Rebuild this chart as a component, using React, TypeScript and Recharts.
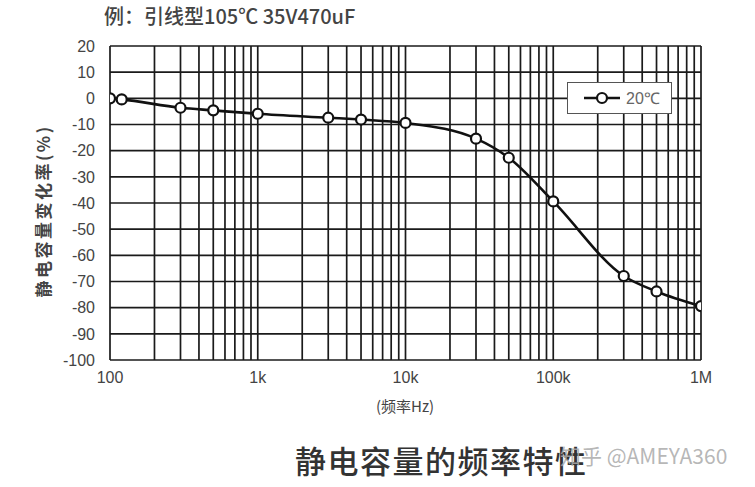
import React from "react";
import {
  LineChart,
  Line,
  XAxis,
  YAxis,
  ReferenceLine,
  Legend,
} from "recharts";

// Frequency (Hz) and capacitance change (%)
const frequencies = [100, 120, 300, 500, 1000, 3000, 5000, 10000, 30000, 50000, 100000, 300000, 500000, 1000000];
const capChange = [0, -0.4, -3.6, -4.6, -5.9, -7.4, -8.1, -9.4, -15.4, -22.7, -39.4, -67.9, -73.8, -79.4];

const seriesName = "20℃";
const xTicks = [100, 1000, 10000, 100000, 1000000];
const xTickLabels = ["100", "1k", "10k", "100k", "1M"];
const yTicks = [-100, -90, -80, -70, -60, -50, -40, -30, -20, -10, 0, 10, 20];
const decades = [100, 1000, 10000, 100000];
const multipliers = [1, 2, 3, 4, 5, 6, 7, 8, 9];

const titleText = "例：引线型105℃ 35V470uF";
const yLabelText = "静电容量变化率(%)";
const xLabelText = "(频率Hz)";
const captionText = "静电容量的频率特性";
const watermarkText = "知乎 @AMEYA360";

const data = frequencies.map((f, i) => ({ f, v: capChange[i] }));
const verticalGrid = [...decades.flatMap((d) => multipliers.map((m) => d * m)), 1000000];

const gridColor = "#1a1a1a";
const tickFont = "'Liberation Sans', Arial, sans-serif";
const cjkFont = "'Noto Sans CJK SC', 'Noto Sans', sans-serif";

const renderLegend = () => (
  <div
    style={{
      border: "1.5px solid #555",
      background: "#fff",
      width: 105,
      height: 32,
      boxSizing: "border-box",
      display: "flex",
      alignItems: "center",
      paddingLeft: 16,
    }}
  >
    <svg width={38} height={14}>
      <line x1={0} y1={7} x2={36} y2={7} stroke="#111" strokeWidth={2.5} />
      <circle cx={18} cy={7} r={5} fill="#fff" stroke="#111" strokeWidth={2.2} />
    </svg>
    <span style={{ fontFamily: tickFont, fontSize: 16, color: "#666", marginLeft: 4 }}>{seriesName}</span>
  </div>
);

export default function App() {
  return (
    <div
      style={{
        position: "fixed",
        left: 0,
        top: 0,
        width: 755,
        height: 487,
        background: "#fff",
        overflow: "hidden",
      }}
    >
      <div
        style={{
          position: "absolute",
          left: 104,
          top: 2,
          fontFamily: cjkFont,
          fontSize: 20,
          fontWeight: 500,
          color: "#444",
          whiteSpace: "nowrap",
          lineHeight: "28px",
        }}
      >
        {titleText}
      </div>
      <LineChart
        width={755}
        height={487}
        data={data}
        margin={{ top: 46, right: 54, bottom: 97, left: 50 }}
      >
        {verticalGrid.map((x) => (
          <ReferenceLine key={"v" + x} x={x} stroke={gridColor} strokeWidth={1.7} ifOverflow="visible" />
        ))}
        {yTicks.map((y) => (
          <ReferenceLine key={"h" + y} y={y} stroke={gridColor} strokeWidth={1.7} ifOverflow="visible" />
        ))}
        <XAxis
          dataKey="f"
          type="number"
          scale="log"
          domain={[100, 1000000]}
          ticks={xTicks}
          tickFormatter={(v) => xTickLabels[xTicks.indexOf(v)] ?? String(v)}
          axisLine={false}
          tickLine={false}
          tickSize={0}
          tickMargin={12}
          height={30}
          tick={{ fontFamily: tickFont, fontSize: 16, fill: "#444" }}
          allowDataOverflow
        />
        <YAxis
          type="number"
          domain={[-100, 20]}
          ticks={yTicks}
          interval={0}
          axisLine={false}
          tickLine={false}
          tickSize={0}
          tickMargin={15}
          width={60}
          tick={{ fontFamily: tickFont, fontSize: 16, fill: "#444" }}
        />
        <Legend
          layout="vertical"
          verticalAlign="middle"
          align="center"
          content={renderLegend}
          wrapperStyle={{ position: "absolute", left: 567, top: 82, width: 105, height: 32 }}
        />
        <Line
          type="monotone"
          dataKey="v"
          name={seriesName}
          stroke="#111"
          strokeWidth={2.6}
          dot={{ r: 5, fill: "#fff", stroke: "#111", strokeWidth: 2.2 }}
          activeDot={false}
          isAnimationActive={false}
        />
      </LineChart>
      <div
        style={{
          position: "absolute",
          left: 42,
          top: 211,
          transform: "translate(-50%, -50%) rotate(-90deg)",
          fontFamily: cjkFont,
          fontSize: 17,
          fontWeight: 700,
          letterSpacing: 2.5,
          color: "#444",
          whiteSpace: "nowrap",
        }}
      >
        {yLabelText}
      </div>
      <div
        style={{
          position: "absolute",
          left: 405,
          top: 405,
          transform: "translate(-50%, -50%)",
          fontFamily: cjkFont,
          fontSize: 15,
          color: "#444",
          whiteSpace: "nowrap",
        }}
      >
        {xLabelText}
      </div>
      <div
        style={{
          position: "absolute",
          left: 295,
          top: 437,
          fontFamily: cjkFont,
          fontSize: 31,
          fontWeight: 500,
          letterSpacing: 1.5,
          color: "#333",
          whiteSpace: "nowrap",
        }}
      >
        {captionText}
      </div>
      <div
        style={{
          position: "absolute",
          left: 560,
          top: 440,
          fontFamily: cjkFont,
          fontSize: 21,
          color: "rgba(170,170,170,0.85)",
          whiteSpace: "nowrap",
        }}
      >
        {watermarkText}
      </div>
    </div>
  );
}
